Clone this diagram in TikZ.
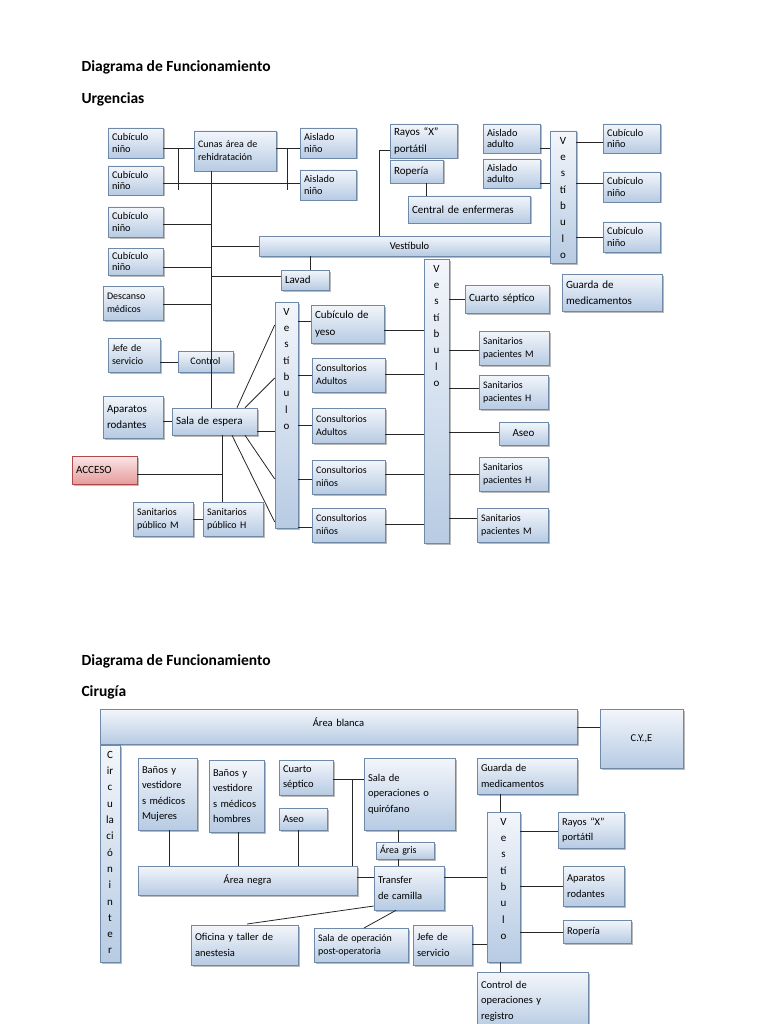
\documentclass[tikz,border=0pt]{standalone}
\usepackage{fontspec}
\setmainfont{Carlito}
\usetikzlibrary{shadows}
\definecolor{bord}{HTML}{6F89A8}
\definecolor{topc}{HTML}{F3F6FB}
\definecolor{botc}{HTML}{B7CBE3}
\definecolor{rtop}{HTML}{FBE6E6}
\definecolor{rbot}{HTML}{E59C9C}
\definecolor{rbord}{HTML}{B04A4A}
\tikzset{
 box/.style={draw=bord,line width=0.6pt,top color=topc,bottom color=botc,inner xsep=4pt,inner ysep=1pt,align=left,
   font=\fontsize{10.5}{15.5}\selectfont,
   drop shadow={shadow xshift=1.5pt,shadow yshift=-1.5pt,fill=black!45,opacity=0.6}},
 sm/.style={font=\fontsize{10}{13}\selectfont},
 cub/.style={font=\fontsize{10.3}{11.5}\selectfont},
 big/.style={font=\fontsize{11}{16.5}\selectfont},
 red/.style={draw=rbord,top color=rtop,bottom color=rbot},
 vl/.style={label={[anchor=north,yshift=-3pt,align=center,font=\fontsize{11}{16.3}\selectfont]north:#1}},
 ln/.style={line width=0.8pt,black!85},
 ttl/.style={font=\fontsize{15.5}{18}\selectfont\bfseries,anchor=west}
}
\newcommand\bx[7][]{%
 \pgfmathsetmacro\bw{#5-#3}\pgfmathsetmacro\bh{#6-#4}\pgfmathsetmacro\tw{max(#5-#3-8,2)}%
 \node[box,minimum width=\bw pt,minimum height=\bh pt,text width=\tw pt,#1] (#2) at ({(#3+#5)/2},{(#4+#6)/2}) {#7};}
\begin{document}
\begin{tikzpicture}[x=1pt,y=-1pt]
\useasboundingbox (0,0) rectangle (768,1024);
\node[ttl] (t1) at (78,67) {Diagrama de Funcionamiento};
\node[ttl] (t2) at (78,99) {Urgencias};
\node[ttl] (t3) at (78,661) {Diagrama de Funcionamiento};
\node[ttl] (t4) at (78,692) {Cirugía};

% ---------- Urgencias ----------
\bx[cub]{c1}{108}{128}{163}{158}{Cubículo\\niño}
\bx[cub]{c2}{108}{166}{163}{195}{Cubículo\\niño}
\bx[cub]{c3}{108}{207}{163}{237}{Cubículo\\niño}
\bx[cub]{c4}{108}{248}{163}{275}{Cubículo\\niño}
\bx[sm]{desc}{103}{286}{163}{320}{Descanso\\médicos}
\bx[sm]{jefe}{108}{338}{160}{372}{Jefe de\\servicio}
\bx[big]{apar}{103}{396}{163}{438}{Aparatos\\rodantes}
\bx[big,red]{acc}{72}{456}{137}{484}{ACCESO}
\bx[sm]{spm}{133}{502}{193}{536}{Sanitarios\\público M}
\bx[sm]{sph}{203}{502}{263}{536}{Sanitarios\\público H}
\bx[sm]{cunas}{194}{131}{276}{171}{Cunas área de\\rehidratación}
\bx[cub]{an1}{300}{128}{356}{158}{Aislado\\niño}
\bx[cub]{an2}{300}{170}{356}{200}{Aislado\\niño}
\bx[sm,align=center]{ctrl}{178}{351}{233}{372}{Control}
\bx[big]{sala}{172}{408}{257}{435}{Sala de espera}
\bx[big]{lav}{281}{270}{329}{290}{Lavad}
\bx[align=center]{vh}{259}{236}{560}{256}{Vestíbulo}
\bx[vl={V\\e\\s\\tí\\b\\u\\l\\o}]{vL}{275}{302}{298}{528}{}
\bx[big]{yeso}{311}{305}{384}{343}{Cubículo de\\yeso}
\bx[sm]{ca1}{312}{358}{385}{392}{Consultorios\\Adultos}
\bx[sm]{ca2}{312}{408}{385}{443}{Consultorios\\Adultos}
\bx[sm]{cn1}{312}{460}{385}{494}{Consultorios\\niños}
\bx[sm]{cn2}{312}{508}{385}{542}{Consultorios\\niños}
\bx[vl={V\\e\\s\\tí\\b\\u\\l\\o}]{vR}{424}{259}{449}{543}{}
\bx[big]{rayos}{390}{124}{457}{158}{Rayos “X”\\portátil}
\bx[big]{rop}{390}{160}{443}{183}{Ropería}
\bx[big]{cent}{408}{196}{530}{223}{Central de enfermeras}
\bx[cub]{aa1}{483}{124}{540}{153}{Aislado\\adulto}
\bx[cub]{aa2}{483}{159}{540}{188}{Aislado\\adulto}
\bx[vl={V\\e\\s\\tí\\b\\u\\l\\o}]{vT}{550}{131}{576}{263}{}
\bx[cub]{r1}{603}{124}{660}{153}{Cubículo\\niño}
\bx[cub]{r2}{603}{172}{660}{202}{Cubículo\\niño}
\bx[cub]{r3}{603}{222}{660}{252}{Cubículo\\niño}
\bx[big]{guard}{562}{274}{662}{311}{Guarda de\\medicamentos}
\bx[big]{sept}{465}{285}{549}{313}{Cuarto séptico}
\bx[sm]{sm1}{479}{331}{549}{365}{Sanitarios\\pacientes M}
\bx[sm]{sh1}{479}{375}{548}{409}{Sanitarios\\pacientes H}
\bx[big,align=center]{aseo}{499}{422}{548}{445}{Aseo}
\bx[sm]{sh2}{479}{457}{548}{491}{Sanitarios\\pacientes H}
\bx[sm]{sm2}{477}{508}{548}{542}{Sanitarios\\pacientes M}

\begin{scope}[ln]
\draw (211,0 |- cunas.south) -- (211,0 |- sala.north);
\draw (c1.east |- 0,148) -- (cunas.west |- 0,148);
\draw (178,148) -- (178,190);
\draw (c2.east |- 0,183) -- (an2.west |- 0,183);
\draw (cunas.east |- 0,148) -- (an1.west |- 0,148);
\draw (287,148) -- (287,190);
\draw (c3.east |- 0,224) -- (211,224);
\draw (c4.east |- 0,267) -- (211,267);
\draw (desc.east |- 0,304) -- (211,304);
\draw (211,246) -- (vh.west |- 0,246);
\draw (211,276) -- (lav.west |- 0,276);
\draw (jefe.east |- 0,362) -- (ctrl.west |- 0,362);
\draw (apar.east |- 0,421) -- (sala.west |- 0,421);
\draw (222,0 |- sala.south) -- (222,0 |- sph.north);
\draw (acc.east |- 0,474) -- (222,474);
\draw (spm.east |- 0,519) -- (sph.west |- 0,519);
\draw (sala.north -| 237,0) -- (vL.west |- 0,325);
\draw (sala.north -| 245,0) -- (vL.west |- 0,378);
\draw (sala.east |- 0,431) -- (vL.west |- 0,431);
\draw (sala.south -| 245,0) -- (vL.west |- 0,479);
\draw (sala.south -| 232,0) -- (vL.west |- 0,522);
\draw (vL.east |- 0,321) -- (yeso.west |- 0,321);
\draw (vL.east |- 0,375) -- (ca1.west |- 0,375);
\draw (vL.east |- 0,425) -- (ca2.west |- 0,425);
\draw (vL.east |- 0,479) -- (cn1.west |- 0,479);
\draw (vL.east |- 0,527) -- (cn2.west |- 0,527);
\draw (yeso.east |- 0,330) -- (vR.west |- 0,330);
\draw (ca1.east |- 0,374) -- (vR.west |- 0,374);
\draw (ca2.east |- 0,434) -- (vR.west |- 0,434);
\draw (cn1.east |- 0,474) -- (vR.west |- 0,474);
\draw (cn2.east |- 0,524) -- (vR.west |- 0,524);
\draw (vR.east |- 0,299) -- (sept.west |- 0,299);
\draw (vR.east |- 0,350) -- (sm1.west |- 0,350);
\draw (vR.east |- 0,388) -- (sh1.west |- 0,388);
\draw (vR.east |- 0,432) -- (aseo.west |- 0,432);
\draw (vR.east |- 0,474) -- (sh2.west |- 0,474);
\draw (vR.east |- 0,518) -- (sm2.west |- 0,518);
\draw (310,0 |- vh.south) -- (310,0 |- lav.north);
\draw (379,0 |- vh.north) -- (379,150) -- (rayos.west |- 0,150);
\draw (426,0 |- rop.south) -- (426,0 |- cent.north);
\draw (aa1.east |- 0,148) -- (vT.west |- 0,148);
\draw (aa2.east |- 0,183) -- (vT.west |- 0,183);
\draw (vT.east |- 0,142) -- (r1.west |- 0,142);
\draw (vT.east |- 0,183) -- (r2.west |- 0,183);
\draw (vT.east |- 0,237) -- (r3.west |- 0,237);
\end{scope}

% ---------- Cirugía ----------
\bx[align=center]{ab}{100}{709}{577}{744}{\raisebox{8pt}{Área blanca}}
\bx[align=center]{cye}{600}{709}{683}{768}{C.Y.,E}
\bx[vl={C\\ir\\c\\u\\la\\ci\\ó\\n\\i\\n\\t\\e\\r}]{circ}{100}{745}{120}{962}{}
\bx{bm}{138}{758}{197}{830}{Baños y\\vestidore\\s médicos\\Mujeres}
\bx{bh}{209}{760}{264}{832}{Baños y\\vestidore\\s médicos\\hombres}
\bx{cs}{279}{760}{333}{795}{Cuarto\\séptico}
\bx{as2}{279}{808}{327}{830}{Aseo}
\bx{quir}{364}{758}{455}{830}{Sala de\\operaciones o\\quirófano\\[8pt]}
\bx[sm]{gris}{376}{842}{434}{859}{Área gris}
\bx[align=center]{neg}{138}{866}{357}{895}{Área negra}
\bx{trans}{374}{866}{444}{910}{Transfer\\de camilla}
\bx{gm}{477}{758}{577}{794}{Guarda de\\medicamentos}
\bx[vl={V\\e\\s\\tí\\b\\u\\l\\o}]{vC}{487}{812}{520}{962}{}
\bx{rx}{558}{812}{624}{848}{Rayos “X”\\portátil}
\bx{ar}{563}{866}{624}{906}{Aparatos\\rodantes}
\bx{rp}{563}{920}{631}{943}{Ropería}
\bx{ofi}{191}{925}{298}{965}{Oficina y taller de\\anestesia}
\bx[sm]{post}{314}{928}{408}{962}{Sala de operación\\post-operatoria}
\bx{jf}{413}{925}{472}{965}{Jefe de\\servicio}
\bx{ctl}{477}{972}{588}{1030}{Control de\\operaciones y\\registro}

\begin{scope}[ln]
\draw (ab.east |- 0,727) -- (cye.west |- 0,727);
\draw (169,0 |- bm.south) -- (169,0 |- neg.north);
\draw (238,0 |- bh.south) -- (238,0 |- neg.north);
\draw (298,0 |- as2.south) -- (298,0 |- neg.north);
\draw (cs.east |- 0,779) -- (quir.west |- 0,779);
\draw (352,779) -- (352,0 |- neg.north);
\draw (398,0 |- quir.south) -- (398,0 |- gris.north);
\draw (398,0 |- gris.south) -- (398,0 |- trans.north);
\draw (neg.east |- 0,877) -- (trans.west |- 0,877);
\draw (trans.east |- 0,877) -- (vC.west |- 0,877);
\draw (trans.west |- 0,906) -- (247,924);
\draw (trans.south -| 396,0) -- (364,928);
\draw (jf.east |- 0,944) -- (vC.west |- 0,944);
\draw (500,0 |- gm.south) -- (500,0 |- vC.north);
\draw (vC.east |- 0,831) -- (rx.west |- 0,831);
\draw (vC.east |- 0,886) -- (ar.west |- 0,886);
\draw (vC.east |- 0,932) -- (rp.west |- 0,932);
\draw (500,0 |- vC.south) -- (500,0 |- ctl.north);
\end{scope}
\end{tikzpicture}
\end{document}
